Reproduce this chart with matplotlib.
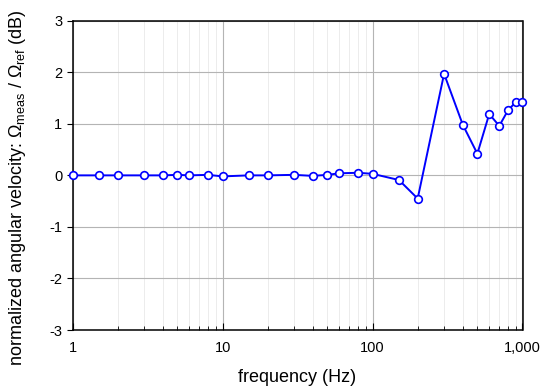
import matplotlib
matplotlib.use('Agg')
import matplotlib.pyplot as plt
from matplotlib.ticker import FixedLocator, FixedFormatter, LogLocator, NullFormatter

plt.rcParams['font.family'] = ['Liberation Sans', 'DejaVu Sans']
plt.rcParams['mathtext.fontset'] = 'custom'
plt.rcParams['mathtext.rm'] = 'Liberation Sans'
plt.rcParams['axes.unicode_minus'] = False

# data
freq = [1, 1.5, 2, 3, 4, 5, 6, 8, 10, 15, 20, 30, 40, 50, 60, 80, 100,
        150, 200, 300, 400, 500, 600, 700, 800, 900, 1000]
gain_db = [0.0, 0.0, 0.0, 0.0, 0.0, 0.01, 0.0, 0.01, -0.02, 0.0, 0.0, 0.01, -0.01,
           0.01, 0.04, 0.05, 0.03, -0.09, -0.45, 1.97, 0.98, 0.42, 1.19, 0.96,
           1.26, 1.42, 1.42]
x_ticks = [1, 10, 100, 1000]
x_labels = ['1', '10', '100', '1,000']

fig = plt.figure(figsize=(5.5, 3.91), dpi=100)
ax = fig.add_axes([0.132, 0.156, 0.818, 0.791])

ax.plot(freq, gain_db, '-o', color='#0000ff', lw=1.4, ms=5.5,
        mfc='white', mec='#0000ff', mew=1.2, zorder=3, clip_on=False)

ax.set_xscale('log')
ax.set_xlim(1, 1000)
ax.set_ylim(-3, 3)
ax.xaxis.set_major_locator(FixedLocator(x_ticks))
ax.xaxis.set_major_formatter(FixedFormatter(x_labels))
ax.xaxis.set_minor_locator(LogLocator(base=10, subs=range(2, 10)))
ax.xaxis.set_minor_formatter(NullFormatter())
ax.set_yticks(range(-3, 4))

ax.grid(True, which='major', color='#b4b4b4', lw=0.8)
ax.grid(True, which='minor', axis='x', color='#ececec', lw=0.7)

ax.tick_params(axis='x', which='both', direction='in', labelsize=10.5, pad=8)
ax.tick_params(axis='x', which='major', length=5)
ax.tick_params(axis='x', which='minor', length=3)
ax.tick_params(axis='y', direction='out', length=4, labelsize=10.5)

for s in ax.spines.values():
    s.set_linewidth(1.1)

ax.set_xlabel('frequency (Hz)', fontsize=13)
ax.set_ylabel(r'normalized angular velocity: $\Omega_\mathrm{meas}$ / $\Omega_\mathrm{ref}$ (dB)',
              fontsize=13)
ax.yaxis.set_label_coords(-0.1, 0.46)
ax.xaxis.set_label_coords(0.5, -0.125)

fig.savefig('out.png', dpi=100)
